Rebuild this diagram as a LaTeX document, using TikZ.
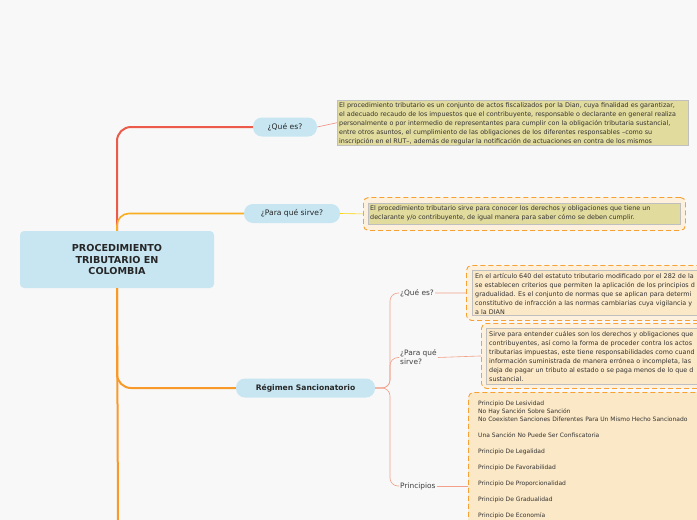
\documentclass[tikz,border=0pt]{standalone}
\usepackage{fontspec}
\setmainfont{DejaVu Sans}
\begin{document}
\begin{tikzpicture}[x=1pt,y=1pt,
  topic/.style={fill=topicblue,rounded corners=9pt,font=\fontsize{7.6}{9}\selectfont,text=black!85,inner sep=0pt,minimum height=19pt},
  sub/.style={font=\fontsize{7.4}{9}\selectfont,text=black!75,align=left,inner sep=1pt},
  note/.style={font=\fontsize{6.4}{9}\selectfont,text=black!80,align=left,inner sep=3pt,anchor=north west},
  outer/.style={draw=dashorange,dashed,dash pattern=on 5pt off 3pt,line width=0.9pt,fill=noteorange!60,rounded corners=5pt},
  inner/.style={fill=noteorange,draw=black!25,line width=0.4pt},
  thin/.style={line width=0.6pt,draw=salmon}]
\definecolor{bg}{HTML}{F8F8F8}
\definecolor{topicblue}{HTML}{C7E6F2}
\definecolor{olive}{HTML}{E2DB9E}
\definecolor{noteorange}{HTML}{FBE8C6}
\definecolor{dashorange}{HTML}{F7A134}
\definecolor{redl}{HTML}{EC5A4A}
\definecolor{orl}{HTML}{F89A2A}
\definecolor{salmon}{HTML}{F2A089}
\fill[bg] (0,0) rectangle (697,-520);
\useasboundingbox (0,0) rectangle (697,-520);
\begin{scope}
\clip (0,0) rectangle (697,-520);
% central
\node[fill=topicblue,rounded corners=4pt,minimum width=194pt,minimum height=57pt,align=center,font=\bfseries\fontsize{9.6}{11.5}\selectfont,text=black!85] (c) at (117,-259.5) {PROCEDIMIENTO\\TRIBUTARIO EN\\COLOMBIA};
\node[topic,minimum width=64pt] (q1) at (285,-127) {¿Qué es?};
\node[topic,minimum width=96pt] (p1) at (292,-213.5) {¿Para qué sirve?};
\node[topic,minimum width=139pt,font=\bfseries\fontsize{7.6}{9}\selectfont] (r) at (305.5,-388) {Régimen Sancionatorio};
\coordinate (bot) at (118,-520);
\draw[redl,line width=2pt,rounded corners=14pt] (c.north) |- (q1.west);
\draw[orl!80!yellow,line width=1.6pt,rounded corners=12pt] (c.north) |- (p1.west);
\draw[orl,line width=2pt,rounded corners=14pt] (c.south) |- (r.west);
\draw[orl,line width=2pt] (c.south) -- (bot);
% box 1
\node[fill=olive,draw=black!25,minimum width=351pt,minimum height=45pt,anchor=north west] (b1) at (337,-100) {};
\node[note,inner sep=2pt] at (b1.north west) {El procedimiento tributario es un conjunto de actos fiscalizados por la Dian, cuya finalidad es garantizar,\\el adecuado recaudo de los impuestos que el contribuyente, responsable o declarante en general realiza\\personalmente o por intermedio de representantes para cumplir con la obligación tributaria sustancial,\\entre otros asuntos, el cumplimiento de las obligaciones de los diferentes responsables –como su\\inscripción en el RUT–, además de regular la notificación de actuaciones en contra de los mismos};
\draw[redl!70,line width=0.6pt] (q1.east) -- (b1.west);
% box 2
\node[outer,minimum width=322pt,minimum height=33pt,anchor=north west] (b2) at (363,-197) {};
\node[fill=olive,draw=black!25,minimum width=312pt,minimum height=21pt,anchor=north west] (b2i) at (368,-203) {};
\node[note,inner sep=2pt] at (b2i.north west) {El procedimiento tributario sirve para conocer los derechos y obligaciones que tiene un\\declarante y/o contribuyente, de igual manera para saber cómo se deben cumplir.};
\draw[yellow!70!orange,line width=0.6pt] (p1.east) -- (b2.west);
% sub topics
\node[sub,anchor=west] (s1) at (399,-293) {¿Qué es?};
\node[sub,anchor=west] (s2) at (399,-357.5) {¿Para qué\\sirve?};
\node[sub,anchor=west] (s3) at (399,-486) {Principios};
\draw[thin,rounded corners=8pt] (r.east) -- (390,-388) |- (s1.west);
\draw[thin,rounded corners=8pt] (r.east) -- (390,-388) |- (s2.west);
\draw[thin,rounded corners=8pt] (r.east) -- (390,-388) |- (s3.west);
% box 3
\node[outer,minimum width=240pt,minimum height=55pt,anchor=north west] (b3) at (466,-265) {};
\node[inner,minimum width=240pt,minimum height=45pt,anchor=north west] (b3i) at (472,-270) {};
\node[note] at (b3i.north west) {En el artículo 640 del estatuto tributario modificado por el 282 de la\\se establecen criterios que permiten la aplicación de los principios d\\gradualidad. Es el conjunto de normas que se aplican para determi\\constitutivo de infracción a las normas cambiarias cuya vigilancia y\\a la DIAN};
\draw[thin] (s1.east) -- (b3.west);
% box 4
\node[outer,minimum width=230pt,minimum height=65pt,anchor=north west] (b4) at (481,-323) {};
\node[inner,minimum width=230pt,minimum height=56pt,anchor=north west] (b4i) at (486,-328) {};
\node[note] at (b4i.north west) {Sirve para entender cuáles son los derechos y obligaciones que\\contribuyentes, así como la forma de proceder contra los actos\\tributarias impuestas, este tiene responsabilidades como cuand\\información suministrada de manera errónea o incompleta, las\\deja de pagar un tributo al estado o se paga menos de lo que d\\sustancial.};
\draw[thin] (s2.east) -- (b4.west);
% box 5
\node[outer,fill=noteorange,minimum width=240pt,minimum height=140pt,anchor=north west] (b5) at (468,-392) {};
\node[note,font=\fontsize{6}{8}\selectfont,inner sep=0pt] at (478,-401) {Principio De Lesividad\\No Hay Sanción Sobre Sanción\\No Coexisten Sanciones Diferentes Para Un Mismo Hecho Sancionado\\[8pt]Una Sanción No Puede Ser Confiscatoria\\[8pt]Principio De Legalidad\\[8pt]Principio De Favorabilidad\\[8pt]Principio De Proporcionalidad\\[8pt]Principio De Gradualidad\\[8pt]Principio De Economía};
\draw[thin] (s3.east) -- (b5.west|-s3.east);
\end{scope}
\end{tikzpicture}
\end{document}
